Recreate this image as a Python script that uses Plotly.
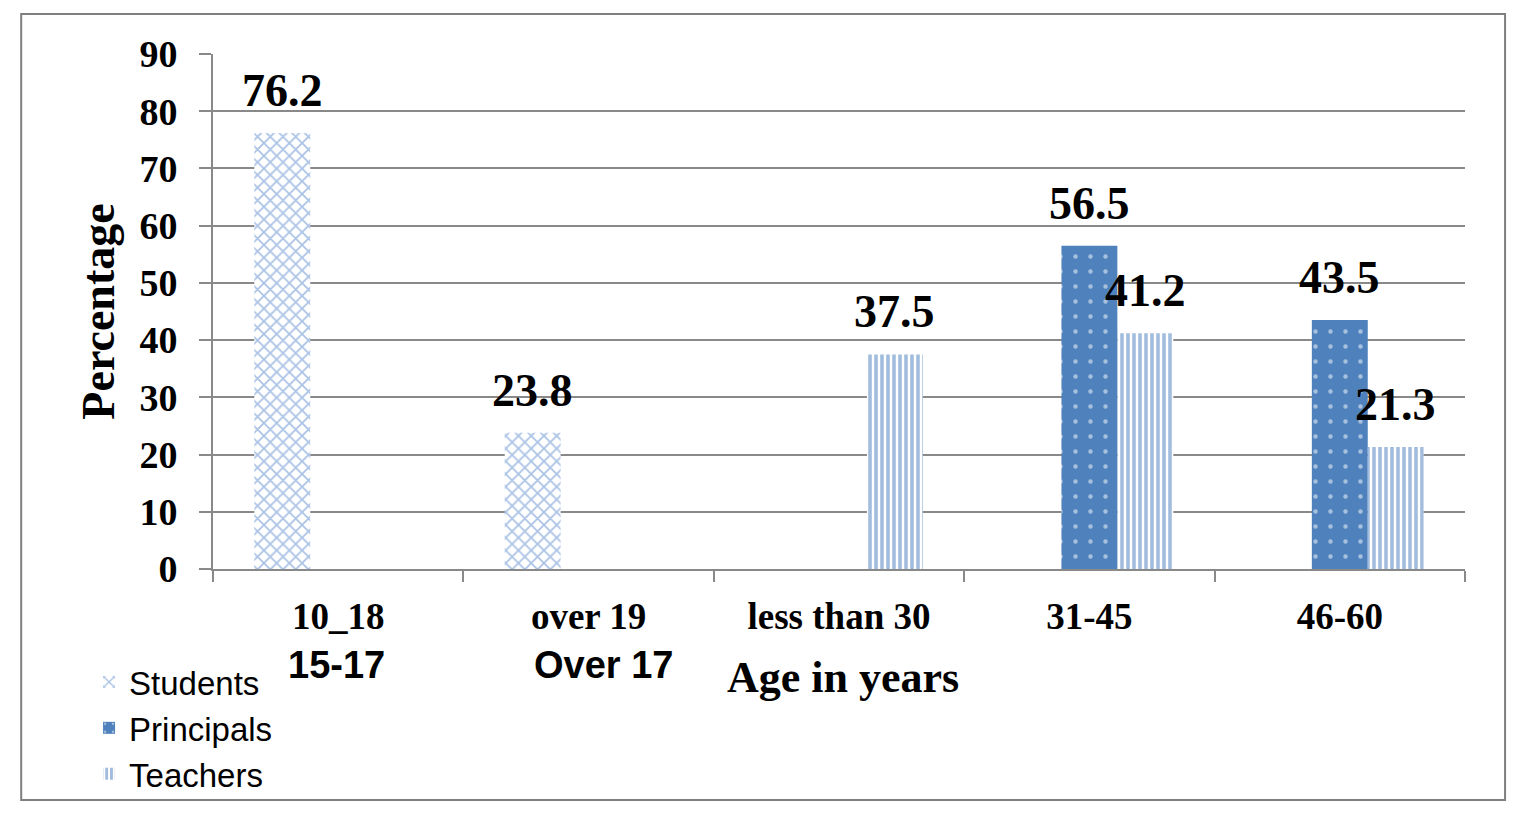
import plotly.graph_objects as go

categories = ["10_18", "over 19", "less than 30", "31-45", "46-60"]
series_names = ["Students", "Principals", "Teachers"]
students = [76.2, 23.8, None, None, None]
principals = [None, None, None, 56.5, 43.5]
teachers = [None, None, 37.5, 41.2, 21.3]
second_row_labels = ["15-17", "Over 17"]
y_ticks = list(range(0, 100, 10))

BLUE = "#4F81BD"
GRID = "#898989"
SERIF = "Liberation Serif"
SANS = "Liberation Sans"
BARGAP = 0.33

fig = go.Figure()
fig.add_trace(go.Bar(
    name=series_names[0], x=categories, y=students,
    marker=dict(color="white", line=dict(width=0),
                pattern=dict(shape="x", fgcolor="#5586CC", bgcolor="white",
                             size=9, solidity=0.35)),
))
fig.add_trace(go.Bar(
    name=series_names[1], x=categories, y=principals,
    marker=dict(color=BLUE, line=dict(width=0),
                pattern=dict(shape=".", fgcolor="white", bgcolor=BLUE,
                             size=15, solidity=0.07)),
))
fig.add_trace(go.Bar(
    name=series_names[2], x=categories, y=teachers,
    marker=dict(color="white", line=dict(width=0),
                pattern=dict(shape="|", fgcolor="#4479BA", bgcolor="white",
                             size=6, solidity=0.6)),
))

# value labels above bars
bar_w = (1 - BARGAP) / 3
annotations = []
for si, vals in enumerate([students, principals, teachers]):
    off = (si - 1) * bar_w
    for ci, v in enumerate(vals):
        if v is None:
            continue
        annotations.append(dict(
            x=ci + off, y=v, xref="x", yref="y", text=f"{v:.1f}",
            showarrow=False, yanchor="bottom", yshift=15,
            font=dict(family=SERIF, size=46, color="black", weight="bold"),
        ))

annotations.append(dict(x=0.099, y=-0.186, xref="paper", yref="paper",
                        text=second_row_labels[0], showarrow=False,
                        xanchor="center", yanchor="middle",
                        font=dict(family=SANS, size=38, color="black", weight="bold")))
annotations.append(dict(x=0.312, y=-0.186, xref="paper", yref="paper",
                        text=second_row_labels[1], showarrow=False,
                        xanchor="center", yanchor="middle",
                        font=dict(family=SANS, size=38, color="black", weight="bold")))
annotations.append(dict(x=0.503, y=-0.21, xref="paper", yref="paper",
                        text="Age in years", showarrow=False,
                        xanchor="center", yanchor="middle",
                        font=dict(family=SERIF, size=44, color="black", weight="bold")))

fig.update_layout(
    width=1529, height=816,
    margin=dict(l=205, r=72, t=46, b=255),
    paper_bgcolor="white", plot_bgcolor="white",
    barmode="group", bargap=BARGAP, bargroupgap=0,
    showlegend=True,
    legend=dict(x=-0.099, y=-0.165, xanchor="left", yanchor="top",
                font=dict(family=SANS, size=33, color="black"),
                bgcolor="rgba(0,0,0,0)", tracegroupgap=0, itemwidth=30),
    annotations=annotations,
    shapes=[dict(type="rect", xref="paper", yref="paper",
                 x0=-0.1532, x1=1.032, y0=-0.4485, y1=1.0777,
                 line=dict(color="#7F7F7F", width=2), fillcolor="rgba(0,0,0,0)",
                 layer="below")],
    xaxis=dict(
        type="category", showline=True, linecolor=GRID, linewidth=2,
        ticks="outside", tickson="boundaries", ticklen=11, tickcolor=GRID, tickwidth=2,
        showgrid=False, ticklabelstandoff=14,
        tickfont=dict(family=SERIF, size=37, color="black", weight="bold"),
    ),
    yaxis=dict(
        range=[0, 90], tickvals=y_ticks, showline=True, linecolor=GRID, linewidth=2,
        ticks="outside", ticklen=12, tickcolor=GRID, tickwidth=2,
        showgrid=True, gridcolor=GRID, gridwidth=2, zeroline=False,
        ticklabelstandoff=14,
        tickfont=dict(family=SERIF, size=38, color="black", weight="bold"),
        title=dict(text="Percentage", standoff=10,
                   font=dict(family=SERIF, size=46, color="black", weight="bold")),
    ),
)

fig.write_html("out.html")
